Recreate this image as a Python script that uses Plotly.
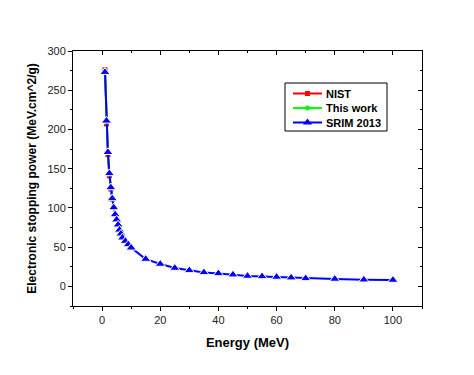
import plotly.graph_objects as go

energy = [1, 1.5, 2, 2.5, 3, 3.5, 4, 4.5, 5, 5.5, 6, 6.5, 7, 8, 9, 10,
          15, 20, 25, 30, 35, 40, 45, 50, 55, 60, 65, 70, 80, 90, 100]
srim = [273, 211, 171, 144, 126, 112, 100.5, 91.6, 85, 78.5, 72, 67, 62, 57.7, 53.4, 49.2,
        34.8, 28.5, 23.4, 20.4, 17.8, 16.5, 14.9, 13.2, 12.7, 12.0, 11.1, 10.2, 9.4, 8.5, 8.1]
energy_low = [1, 1.5, 2, 2.5, 3, 3.5]
nist = [276, 207, 168, 141, 124, 111]
this_work = [275, 209, 170, 143, 125, 111.5]

x_ticks = [0, 20, 40, 60, 80, 100]
y_ticks = [0, 50, 100, 150, 200, 250, 300]
legend_names = ["NIST", "This work", "SRIM 2013"]
legend_colors = ["#ff0000", "#00ff00", "#0000ff"]
legend_symbols = ["square", "circle", "triangle-up"]

FONT = "Arial, Liberation Sans, sans-serif"

fig = go.Figure()
fig.add_trace(go.Scatter(x=energy_low, y=nist, name="NIST", mode="lines+markers",
                         line=dict(color="#ff0000", width=2),
                         marker=dict(symbol="square", size=5, color="#ff0000"),
                         showlegend=False))
fig.add_trace(go.Scatter(x=energy_low, y=this_work, name="This work", mode="lines+markers",
                         line=dict(color="#00ff00", width=2),
                         marker=dict(symbol="circle", size=5, color="#00ff00"),
                         showlegend=False))
fig.add_trace(go.Scatter(x=energy, y=srim, name="SRIM 2013", mode="lines+markers",
                         line=dict(color="#0000ff", width=2),
                         marker=dict(symbol="triangle-up", size=9, color="#0000ff",
                                     line=dict(color="white", width=1)),
                         showlegend=False))

axis_common = dict(showgrid=False, zeroline=False, showline=True, linecolor="black",
                   linewidth=1, ticks="outside", ticklen=4, tickcolor="black",
                   automargin=False,
                   tickfont=dict(family=FONT, size=11, color="#222222"))

fig.update_layout(
    width=474, height=375,
    margin=dict(l=73, r=52, t=51, b=69),
    paper_bgcolor="white", plot_bgcolor="white",
    font=dict(family=FONT, color="black"),
    xaxis=dict(range=[-10, 110], tickvals=x_ticks,
               minor=dict(dtick=10, tick0=0, ticks="outside", ticklen=2, tickcolor="black"),
               title=dict(text="<b>Energy (MeV)</b>", font=dict(family=FONT, size=13), standoff=12),
               **axis_common),
    yaxis=dict(range=[-25, 300], tickvals=y_ticks,
               minor=dict(dtick=25, tick0=0, ticks="outside", ticklen=2, tickcolor="black"),
               title=dict(text="<b>Electronic stopping power (MeV.cm^2/g)</b>",
                          font=dict(family=FONT, size=12), standoff=8),
               **axis_common),
    xaxis2=dict(overlaying="x", side="top", range=[-10, 110], tickvals=x_ticks,
                showticklabels=False, showgrid=False, zeroline=False, showline=True,
                automargin=False,
                linecolor="black", linewidth=1, ticks="inside", ticklen=4, tickcolor="black",
                minor=dict(dtick=10, tick0=0, ticks="inside", ticklen=2, tickcolor="black")),
    yaxis2=dict(overlaying="y", side="right", range=[-25, 300], tickvals=y_ticks,
                showticklabels=False, showgrid=False, zeroline=False, showline=True,
                automargin=False,
                linecolor="black", linewidth=1, ticks="inside", ticklen=4, tickcolor="black",
                minor=dict(dtick=25, tick0=0, ticks="inside", ticklen=2, tickcolor="black")),
    showlegend=False,
)
fig.add_trace(go.Scatter(x=[None], y=[None], xaxis="x2", yaxis="y2", showlegend=False,
                         hoverinfo="skip"))

# custom legend (paper coordinates relative to plot area)
W, H = 474 - 73 - 52, 375 - 51 - 69
def px(x):
    return (x - 73) / W
def py(y):
    return (375 - 69 - y) / H

fig.add_shape(type="rect", xref="paper", yref="paper",
              x0=px(285), x1=px(387), y0=py(131), y1=py(83),
              line=dict(color="black", width=1), fillcolor="white", layer="below")
rows = [93.5, 108, 122.5]
for name, color, sym, ry in zip(legend_names, legend_colors, legend_symbols, rows):
    fig.add_shape(type="line", xref="paper", yref="paper",
                  x0=px(293), x1=px(322), y0=py(ry), y1=py(ry),
                  line=dict(color=color, width=2), layer="below")
    fig.add_annotation(xref="paper", yref="paper", x=px(324), y=py(ry),
                       text=f"<b>{name}</b>", showarrow=False, xanchor="left", yanchor="middle",
                       font=dict(family=FONT, size=11, color="black"))
    fig.add_trace(go.Scatter(x=[px(307.5)], y=[py(ry)], xaxis="x3", yaxis="y3",
                             mode="markers", showlegend=False, hoverinfo="skip",
                             marker=dict(symbol=sym, size=5 if sym != "triangle-up" else 8,
                                         color=color)))
fig.update_layout(
    xaxis3=dict(overlaying="x", range=[0, 1], visible=False, automargin=False),
    yaxis3=dict(overlaying="y", range=[0, 1], visible=False, automargin=False),
)

fig.write_html("out.html", config={"displayModeBar": False},
               post_script="document.body.style.margin='0';")
